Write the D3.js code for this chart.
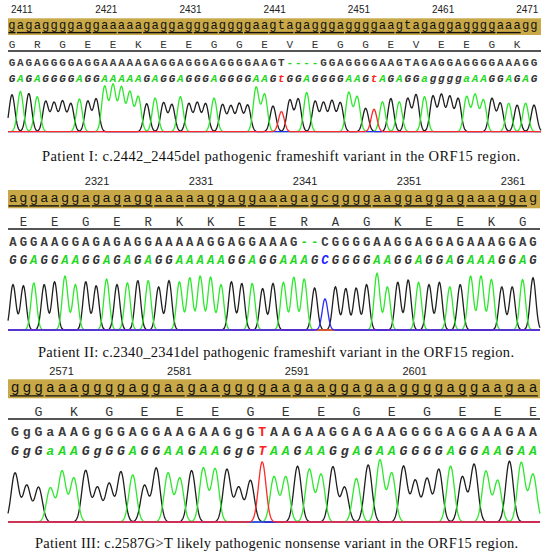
<!DOCTYPE html>
<meta charset='utf-8'>
<title>ORF15 chromatograms</title>
<style>
  body { margin: 0; background: #fff; }
  svg { display: block; }
  .num { font-family: 'Liberation Sans', Arial, sans-serif; fill: #222; }
  .mono { font-family: 'Liberation Mono', 'DejaVu Sans Mono', monospace; }
  .caption { font-family: 'Liberation Serif', 'DejaVu Serif', serif; fill: #111; }
</style>
<body>
<script src='https://cdn.jsdelivr.net/npm/d3@7/dist/d3.min.js'></script>
<script>

  // ---- Patient I ----
  var p1Start = 2411
  var p1Ticks = [2411, 2421, 2431, 2441, 2451, 2461, 2471]
  var p1Ref = 'gagaggggaggaaaaagaggagggaggggaagtagagggaggggaagtagaggaggggaaagg'
  var p1Amino = 'GRGEEKEEGGEVEGGEVEEGK'
  var p1AminoFirst = 1
  var p1Consensus = 'GAGAGGGGAGGAAAAAGAGGAGGGAGGGGAAGT----GGAGGGGAAGTAGAGGAGGGGAAAGG'
  var p1Called = 'GAGAGGGGAGGAAAAAGAGGAGGGAGGGGAAGtGGAGGGGAAGtAGAGGaggggaAAGGAGAG'
  var p1Peaks = [.79, .86, .82, .75, .65, .62, .65, .6, .7, .65,
                 .7, .97, 1.0, .95, .85, .75, .6, .72, .62, .58,
                 .75, .6, .62, .6, .72, .58, .55, .6, .57, .95,
                 .8, .55, .43, .68, .7, .84, .65, .62, .66, .62,
                 .84, .75, .5, .48, .64, .71, .64, .71, .79, .75,
                 .76, .79, .75, .71, .75, .79, .68, .71, .61, .61,
                 .57, .61, .57]
  var p1Caption = 'Patient I: c.2442_2445del pathogenic frameshift variant in the ORF15 region.'

  // ---- Patient II ----
  var p2Start = 2314
  var p2Ticks = [2321, 2331, 2341, 2351, 2361]
  var p2Ref = 'aggaaggagagaggaaaaaggaggaaagagcggggaaggaggagaaaggag'
  var p2Amino = 'EEGERKKEERAGKEEKG'
  var p2AminoFirst = 2
  var p2Consensus = 'AGGAAGGAGAGAGGAAAAAGGAGGAAAG--CGGGGAAGGAGGAGAAAGGAG'
  var p2Called = 'GGAGGAAGGAGAGAGGAAAAAGGAGGAAAGCGGGGAAGGAGGAGAAAGGAG'
  var p2Peaks = [.8, .78, .83, .8, .85, .95, .8, .85, .78, .9,
                 .8, .83, .87, .87, .76, .87, .85, .92, .95, .93,
                 .8, .85, .82, .82, .73, .82, .84, .93, .9, .74,
                 .55, .76, .73, .74, .8, 1.0, .76, .84, .88, .84,
                 .8, .84, .76, .8, .95, .95, .89, .76, .76, .89,
                 .92]
  var p2Caption = 'Patient II: c.2340_2341del pathogenic frameshift variant in the ORF15 region.'

  // ---- Patient III ----
  var p3Start = 2568
  var p3Ticks = [2571, 2581, 2591, 2601]
  var p3Ref = 'gggaaaggggaggaagaaggggaagaaggagaaggggaggaagaa'
  var p3Amino = 'GKGEEEGEEGEGEEE'
  var p3AminoFirst = 3
  var p3Consensus = 'GgGaAAGgGGAGGAAGAAGgGTAAGAAGGAGAAGGGGAGGAAGAA'
  var p3Called = 'GgGaAAGgGGAGGAAGAAGgGTAAGAAGgAGAAGGGGAGGAAGAA'
  var p3Peaks = [.79, .59, .56, .55, .82, .71, .83, .56, .62, .81,
                 .76, .59, .87, .79, .71, .83, .87, .86, .85, .56,
                 .67, .97, .73, .73, .9, .85, .77, .89, .56, .7,
                 .92, 1.0, .79, .9, .67, .7, .85, .9, .73, .93,
                 .82, .67, .98, .96, .77]
  var p3Caption = 'Patient III: c.2587G>T likely pathogenic nonsense variant in the ORF15 region.'

  var panels = [
    { start: p1Start, ticks: p1Ticks, ref: p1Ref, amino: p1Amino, aminoFirst: p1AminoFirst,
      cons: p1Consensus, called: p1Called, peaks: p1Peaks, caption: p1Caption },
    { start: p2Start, ticks: p2Ticks, ref: p2Ref, amino: p2Amino, aminoFirst: p2AminoFirst,
      cons: p2Consensus, called: p2Called, peaks: p2Peaks, caption: p2Caption },
    { start: p3Start, ticks: p3Ticks, ref: p3Ref, amino: p3Amino, aminoFirst: p3AminoFirst,
      cons: p3Consensus, called: p3Called, peaks: p3Peaks, caption: p3Caption }
  ]

  // layout of each panel (pixels)
  var layout = [
    { numY: 13.3, stripTop: 18.3, stripH: 16.7, aaY: 43.8, lineY: 51, consY: 62, callY: 77.8,
      traceTop: 85, baseY: 131.7, capY: 161, capX: 281, capW: 478,
      sx0: 8, sx1: 541, x0: 12, x1: 534, mono: 11, numSize: 10, sigma: 0.34, order: 'GACT' },
    { numY: 184.5, stripTop: 190, stripH: 18.3, aaY: 222, lineY: 229, consY: 241.2, callY: 259.5,
      traceTop: 273.3, baseY: 330, capY: 356.5, capX: 276, capW: 476,
      sx0: 8, sx1: 540, x0: 13, x1: 533, mono: 12.3, numSize: 11, sigma: 0.27, order: 'GATC' },
    { numY: 375, stripTop: 379.3, stripH: 19, aaY: 411.7, lineY: 419, consY: 430.8, callY: 450.5,
      traceTop: 460, baseY: 522, capY: 548, capX: 276.5, capW: 483,
      sx0: 8, sx1: 540, x0: 15, x1: 533, mono: 13.2, numSize: 11, sigma: 0.32, order: 'GACT' }
  ]

  var traceColor = { G: '#1e1e1e', A: '#2ee82e', T: '#ff2a2a', C: '#2a2aff' }
  var letterColor = { G: '#333', A: '#1fd81f', T: '#ff2020', C: '#2020ff', '-': '#1fd81f' }

  var svg = d3.select('body').append('svg')
    .attr('width', 550)
    .attr('height', 557)

  panels.forEach(function(p, pi) {
    var L = layout[pi]
    var n = p.ref.length
    var x = d3.scaleLinear().domain([1, n]).range([L.x0, L.x1])
    var step = x(2) - x(1)
    var g = svg.append('g')

    /* ------- POSITION NUMBERS -------*/
    g.selectAll('text.num')
      .data(p.ticks)
      .join('text')
      .attr('class', 'num')
      .attr('x', function(d) { return x(d - p.start + 1) - 1 })
      .attr('y', L.numY)
      .attr('font-size', L.numSize)
      .text(function(d) { return d })

    /* ------- REFERENCE STRIP -------*/
    g.append('rect')
      .attr('x', L.sx0)
      .attr('y', L.stripTop)
      .attr('width', L.sx1 - L.sx0)
      .attr('height', L.stripH)
      .attr('fill', '#c9a947')

    g.selectAll('text.ref')
      .data(p.ref.split(''))
      .join('text')
      .attr('class', 'ref mono')
      .attr('x', function(d, i) { return x(i + 1) })
      .attr('y', L.stripTop + L.stripH * 0.66)
      .attr('text-anchor', 'middle')
      .attr('font-size', L.mono * 1.1)
      .attr('fill', '#111')
      .text(function(d) { return d })

    // codon underlines; the amino acid sits on the last base of its codon
    var aa = p.amino.split('').map(function(a, j) { return { aa: a, base: p.aminoFirst + 3 * j } })

    g.selectAll('line.codon')
      .data(aa)
      .join('line')
      .attr('class', 'codon')
      .attr('x1', function(d) { return x(Math.max(1, d.base - 2)) - step * 0.42 })
      .attr('x2', function(d) { return x(d.base) + step * 0.42 })
      .attr('y1', L.stripTop + L.stripH - 2.4)
      .attr('y2', L.stripTop + L.stripH - 2.4)
      .attr('stroke', '#111')
      .attr('stroke-width', 1.4)

    /* ------- AMINO ACIDS -------*/
    g.selectAll('text.aa')
      .data(aa)
      .join('text')
      .attr('class', 'aa mono')
      .attr('x', function(d) { return x(d.base) })
      .attr('y', L.aaY)
      .attr('dy', '0.36em')
      .attr('text-anchor', 'middle')
      .attr('font-size', L.mono)
      .attr('fill', '#333')
      .text(function(d) { return d.aa })

    g.append('line')
      .attr('x1', L.sx0).attr('x2', L.sx1)
      .attr('y1', L.lineY).attr('y2', L.lineY)
      .attr('stroke', '#555')
      .attr('stroke-width', 2)

    /* ------- CONSENSUS AND CALLED BASES -------*/
    g.selectAll('text.cons')
      .data(p.cons.split(''))
      .join('text')
      .attr('class', 'cons mono')
      .attr('x', function(d, i) { return x(i + 1) })
      .attr('y', L.consY)
      .attr('dy', '0.36em')
      .attr('text-anchor', 'middle')
      .attr('font-size', L.mono)
      .attr('font-weight', 'bold')
      .attr('fill', function(d, i) {
        if (d === '-') return letterColor['-']
        return d.toLowerCase() === p.ref[i] ? '#3c3c3c' : letterColor[d.toUpperCase()]
      })
      .text(function(d) { return d })

    g.selectAll('text.call')
      .data(p.called.split(''))
      .join('text')
      .attr('class', 'call mono')
      .attr('x', function(d, i) { return x(i + 1) })
      .attr('y', L.callY)
      .attr('dy', '0.36em')
      .attr('text-anchor', 'middle')
      .attr('font-size', L.mono)
      .attr('font-weight', 'bold')
      .attr('font-style', 'italic')
      .attr('fill', function(d) { return letterColor[d.toUpperCase()] })
      .text(function(d) { return d })

    /* ------- TRACES -------*/
    var y = d3.scaleLinear().domain([0, 1]).range([L.baseY, L.traceTop])
    var sig = L.sigma * step
    var xs = d3.range(L.sx0, L.sx1 + 0.01, 0.5)
    var line = d3.line()
      .x(function(d) { return d[0] })
      .y(function(d) { return y(d[1]) })

    L.order.split('').forEach(function(ch) {
      var pk = []
      p.called.split('').forEach(function(c, i) {
        if (c.toUpperCase() === ch) pk.push([x(i + 1), p.peaks[i]])
      })
      var pts = xs.map(function(px) {
        var v = 0
        pk.forEach(function(q) {
          var t = (px - q[0]) / sig
          v += q[1] * Math.exp(-0.5 * t * t)
        })
        return [px, v]
      })
      g.append('path')
        .attr('d', line(pts))
        .attr('fill', 'none')
        .attr('stroke', traceColor[ch])
        .attr('stroke-width', 1.3)
    })

    /* ------- CAPTION -------*/
    g.append('text')
      .attr('class', 'caption')
      .attr('x', L.capX)
      .attr('y', L.capY)
      .attr('text-anchor', 'middle')
      .attr('font-size', 14.5)
      .attr('textLength', L.capW)
      .attr('lengthAdjust', 'spacing')
      .text(p.caption)
  })

</script>
</body>
